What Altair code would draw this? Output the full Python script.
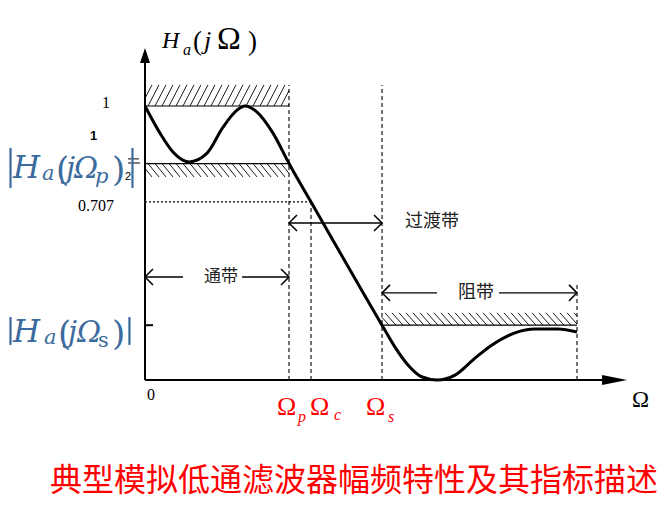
import altair as alt
import pandas as pd

# ---------------- data (schematic units: Omega normalised so that Omega_p = 1) -------------
curve_omega = [0.0, 0.104, 0.194, 0.306, 0.431, 0.542, 0.639, 0.694, 0.778, 0.889, 1.0,
               1.153, 1.646, 1.736, 1.826, 1.924, 2.028, 2.153, 2.292, 2.410, 2.569,
               2.708, 2.868, 3.0]
curve_mag = [1.0, 0.901, 0.832, 0.796, 0.828, 0.923, 0.985, 1.0, 0.978, 0.901, 0.79,
             0.65, 0.2, 0.120, 0.055, 0.011, 0.0, 0.018, 0.080, 0.128, 0.172,
             0.186, 0.186, 0.175]

pass_max = 1.0        # passband upper level (label "1")
pass_min = 0.79       # passband lower level |Ha(jΩp)|
half_power = 0.65     # level drawn for 0.707
stop_max = 0.2        # stopband level |Ha(jΩs)|
top_hatch = 1.077
pass_hatch = 0.741
stop_hatch = 0.245

omega_p = 1.0
omega_c = 1.153
omega_s = 1.646
omega_end = 3.0

band_names = ["通带", "过渡带", "阻带"]
band_arrow_y = [0.376, 0.573, 0.318]
caption = "典型模拟低通滤波器幅频特性及其指标描述"

# ---------------- helpers ----------------
W, H = 652, 492
XS = alt.Scale(domain=[-0.95139, 3.57639], nice=False, zero=False)
YS = alt.Scale(domain=[-0.43796, 1.35766], nice=False, zero=False)
SERIF = "Liberation Serif"
MATH = "DejaVu Serif"
CJK = "Noto Sans CJK SC"
BLUE = "#3A6B9C"
RED = "#FF0000"


def X(f="x"):
    return alt.X(f, type="quantitative", scale=XS, axis=None)


def Y(f="y"):
    return alt.Y(f, type="quantitative", scale=YS, axis=None)


def segs(rows, **kw):
    df = pd.DataFrame(rows, columns=["x", "y", "x2", "y2"])
    return alt.Chart(df).mark_rule(**kw).encode(
        x=X("x"), y=Y("y"), x2="x2", y2="y2")


def label(text, x, y, size, font=SERIF, style="normal", weight="normal",
          color="black", align="left", baseline="alphabetic"):
    df = pd.DataFrame({"x": [x], "y": [y], "t": [text]})
    return alt.Chart(df).mark_text(
        text=text, fontSize=size, font=font, fontStyle=style, fontWeight=weight,
        color=color, align=align, baseline=baseline).encode(x=X("x"), y=Y("y"))


def hatch(x0, x1, y0, y1, forward, step=7 / 144, run=11 / 144):
    rows = []
    s = x0 - run
    while s < x1:
        t0 = max(0.0, (x0 - s) / run)
        t1 = min(1.0, (x1 - s) / run)
        if t1 > t0:
            ya, yb = (y0, y1) if forward else (y1, y0)
            rows.append([s + t0 * run, ya + t0 * (yb - ya),
                         s + t1 * run, ya + t1 * (yb - ya)])
        s += step
    return rows


def points(xs, ys, shape, size, filled=True, sw=1.5):
    df = pd.DataFrame({"x": xs, "y": ys})
    if filled:
        m = alt.Chart(df).mark_point(shape=shape, size=size, filled=True,
                                     color="black", opacity=1, strokeWidth=0)
    else:
        m = alt.Chart(df).mark_point(shape=shape, size=size, filled=False,
                                     color="black", opacity=1, strokeWidth=sw)
    return m.encode(x=X("x"), y=Y("y"))


layers = []

# hatching
layers.append(segs(hatch(0, omega_p, pass_max, top_hatch, True), color="black", strokeWidth=0.9))
layers.append(segs(hatch(0, omega_p, pass_hatch, pass_min, False), color="black", strokeWidth=0.9))
layers.append(segs(hatch(omega_s, omega_end, stop_max, stop_hatch, False), color="black", strokeWidth=0.9))

# band edge lines
layers.append(segs([[0, pass_max, omega_p, pass_max],
                    [0, pass_min, omega_p, pass_min],
                    [omega_s, stop_max, omega_end, stop_max]],
                   color="black", strokeWidth=1.2))

# dashed verticals
layers.append(segs([[omega_p, 0, omega_p, top_hatch],
                    [omega_c, 0, omega_c, half_power],
                    [omega_s, 0, omega_s, top_hatch],
                    [omega_end, 0, omega_end, 0.354]],
                   color="black", strokeWidth=1.1, strokeDash=[4, 3]))

# dotted 0.707 line
layers.append(segs([[0, half_power, omega_c, half_power]],
                   color="black", strokeWidth=1.1, strokeDash=[2, 2]))

# band arrows
arrow_rows = [
    [0, band_arrow_y[0], 0.264, band_arrow_y[0]],
    [0.674, band_arrow_y[0], omega_p, band_arrow_y[0]],
    [omega_p, band_arrow_y[1], omega_s, band_arrow_y[1]],
    [omega_s, band_arrow_y[2], 2.028, band_arrow_y[2]],
    [2.458, band_arrow_y[2], omega_end, band_arrow_y[2]],
]
layers.append(segs(arrow_rows, color="black", strokeWidth=1.4))
layers.append(points([0, omega_p, omega_s], [band_arrow_y[0], band_arrow_y[1], band_arrow_y[2]],
                     "M 1 -1 L 0 0 L 1 1", 256, filled=False))
layers.append(points([omega_p, omega_s, omega_end], [band_arrow_y[0], band_arrow_y[1], band_arrow_y[2]],
                     "M -1 -1 L 0 0 L -1 1", 256, filled=False))

# axes
layers.append(segs([[0, 0, 0, 1.157], [0, 0, 3.174, 0],
                    [0, stop_max, 0.056, stop_max]],
                   color="black", strokeWidth=2))
layers.append(points([0], [1.157], "M -0.5 0 L 0 -1.5 L 0.5 0 Z", 400))
layers.append(points([3.174], [0], "M 0 -0.5 L 2.5 0 L 0 0.5 Z", 400))

# small marks near the |Ha(jΩp)| label
layers.append(segs([[-0.118, 0.807, -0.042, 0.807], [-0.118, 0.792, -0.035, 0.792]],
                   color="black", strokeWidth=1))

# the response curve
curve = pd.DataFrame({"x": curve_omega, "y": curve_mag})
layers.append(alt.Chart(curve).mark_line(interpolate="monotone", color="black",
                                         strokeWidth=3).encode(x=X("x"), y=Y("y")))

# blue magnitude bars
layers.append(segs([[-0.934, 0.701, -0.934, 0.847], [-0.087, 0.701, -0.087, 0.847],
                    [-0.934, 0.128, -0.934, 0.230], [-0.108, 0.128, -0.108, 0.230]],
                   color=BLUE, strokeWidth=2.2))

# ---------------- texts ----------------
texts = [
    # title H_a(jΩ)
    label("H", 0.118, 1.212, 24, style="italic"),
    label("a", 0.264, 1.186, 16, style="italic"),
    label("(", 0.333, 1.204, 27),
    label("j", 0.410, 1.208, 26, style="italic"),
    label("Ω", 0.500, 1.208, 32),
    label(")", 0.715, 1.204, 27),
    # y labels
    label("1", -0.299, 0.993, 16),
    label("1", -0.382, 0.876, 13, font="Liberation Sans", weight="bold"),
    label("2", -0.139, 0.730, 11, font="Liberation Sans"),
    label("0.707", -0.465, 0.617, 16),
    label("0", 0.014, -0.073, 16),
    label("Ω", 3.382, -0.0985, 23),
    # blue |Ha(jΩp)|
    label("H", -0.917, 0.737, 31, font=MATH, style="italic", color=BLUE),
    label("a", -0.715, 0.730, 21, font=MATH, style="italic", color=BLUE),
    label("(", -0.618, 0.726, 34, font=MATH, color=BLUE),
    label("j", -0.549, 0.737, 29, font=MATH, style="italic", color=BLUE),
    label("Ω", -0.493, 0.737, 29, font=MATH, style="italic", color=BLUE),
    label("p", -0.347, 0.719, 21, font=MATH, style="italic", color=BLUE),
    label(")", -0.229, 0.726, 34, font=MATH, color=BLUE),
    # blue |Ha(jΩs)|
    label("H", -0.917, 0.139, 31, font=MATH, style="italic", color=BLUE),
    label("a", -0.701, 0.131, 21, font=MATH, style="italic", color=BLUE),
    label("(", -0.604, 0.128, 34, font=MATH, color=BLUE),
    label("j", -0.535, 0.139, 29, font=MATH, style="italic", color=BLUE),
    label("Ω", -0.472, 0.139, 29, font=MATH, style="italic", color=BLUE),
    label("s", -0.326, 0.120, 21, font=MATH, color=BLUE),
    label(")", -0.229, 0.128, 34, font=MATH, color=BLUE),
    # red frequency labels
    label("Ω", 0.917, -0.128, 26, color=RED),
    label("p", 1.0625, -0.153, 16, style="italic", color=RED),
    label("Ω", 1.146, -0.128, 26, color=RED),
    label("c", 1.3125, -0.146, 16, style="italic", color=RED),
    label("Ω", 1.535, -0.128, 26, color=RED),
    label("s", 1.6875, -0.153, 16, style="italic", color=RED),
    # band names
    label(band_names[0], 0.528, band_arrow_y[0], 17, font=CJK, color="#222222",
          align="center", baseline="middle"),
    label(band_names[1], 1.993, band_arrow_y[1] + 0.004, 18, font=CJK, color="#222222",
          align="center", baseline="middle"),
    label(band_names[2], 2.299, band_arrow_y[2], 18, font=CJK, color="#222222",
          align="center", baseline="middle"),
    # caption
    label(caption, 1.451, -0.369, 32, font=CJK, color=RED, align="center", baseline="middle"),
]
layers.extend(texts)

chart = alt.layer(*layers).properties(
    width=W, height=H, autosize=alt.AutoSizeParams(type="none"), padding=0,
    background="white"
).configure_view(strokeWidth=0)

chart.save("out.html", embed_options={"renderer": "svg", "actions": False})
